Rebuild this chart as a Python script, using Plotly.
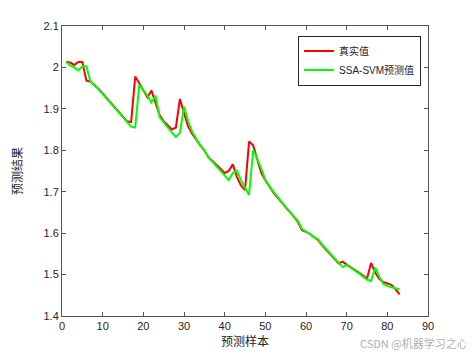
import plotly.graph_objects as go

samples = list(range(1, 84))

true_vals = [
    2.013, 2.012, 2.006, 2.013, 2.013, 1.968, 1.966, 1.958, 1.948, 1.937,
    1.926, 1.915, 1.904, 1.893, 1.882, 1.870, 1.868, 1.978, 1.962, 1.945,
    1.928, 1.944, 1.912, 1.885, 1.870, 1.860, 1.850, 1.855, 1.924, 1.890,
    1.858, 1.840, 1.825, 1.812, 1.800, 1.783, 1.774, 1.765, 1.755, 1.745,
    1.750, 1.766, 1.736, 1.715, 1.704, 1.821, 1.812, 1.775, 1.745, 1.728,
    1.712, 1.698, 1.686, 1.675, 1.663, 1.652, 1.640, 1.627, 1.607, 1.603,
    1.598, 1.590, 1.583, 1.570, 1.560, 1.548, 1.538, 1.527, 1.531, 1.524,
    1.518, 1.512, 1.506, 1.498, 1.490, 1.528, 1.505, 1.490, 1.482, 1.478,
    1.475, 1.465, 1.452,
]

pred_vals = [
    2.013, 2.005, 2.000, 1.993, 2.003, 2.003, 1.965, 1.958, 1.947, 1.936,
    1.924, 1.913, 1.902, 1.891, 1.879, 1.868, 1.857, 1.855, 1.958, 1.945,
    1.932, 1.915, 1.932, 1.880, 1.866, 1.855, 1.843, 1.832, 1.842, 1.905,
    1.870, 1.845, 1.828, 1.812, 1.800, 1.783, 1.772, 1.761, 1.750, 1.739,
    1.728, 1.745, 1.751, 1.728, 1.710, 1.692, 1.800, 1.780, 1.755, 1.728,
    1.713, 1.700, 1.687, 1.675, 1.663, 1.652, 1.640, 1.630, 1.610, 1.605,
    1.598, 1.590, 1.585, 1.572, 1.561, 1.550, 1.540, 1.530, 1.518, 1.523,
    1.517, 1.510, 1.503, 1.495, 1.488, 1.484, 1.517, 1.495, 1.478, 1.472,
    1.470, 1.467, 1.464,
]

x_ticks = [0, 10, 20, 30, 40, 50, 60, 70, 80, 90]
y_ticks = [1.4, 1.5, 1.6, 1.7, 1.8, 1.9, 2.0, 2.1]
y_tick_text = ["1.4", "1.5", "1.6", "1.7", "1.8", "1.9", "2", "2.1"]

fig = go.Figure()
fig.add_trace(go.Scatter(x=samples, y=true_vals, mode="lines", name="真实值",
                         line=dict(color="#ff0000", width=2)))
fig.add_trace(go.Scatter(x=samples, y=pred_vals, mode="lines", name="SSA-SVM预测值",
                         line=dict(color="#00ff00", width=2)))

axis_common = dict(
    showgrid=False, zeroline=False, showline=True, linecolor="#555555", linewidth=1,
    mirror="ticks", ticks="inside", ticklen=4, tickcolor="#555555", automargin=False,
    tickfont=dict(family="Liberation Sans, Arial", size=11, color="#262626"),
)

fig.update_layout(
    width=466, height=347,
    margin=dict(l=54, r=46, t=18, b=39),
    paper_bgcolor="white", plot_bgcolor="white",
    showlegend=True,
    legend=dict(x=0.645, y=0.967, xanchor="left", yanchor="top",
                bgcolor="white", bordercolor="#262626", borderwidth=1,
                font=dict(family="Liberation Sans, Noto Sans CJK SC", size=10, color="#262626"),
                tracegroupgap=0, itemwidth=30),
    xaxis=dict(range=[0, 90], tickvals=x_ticks,
               title=dict(text="预测样本", standoff=5,
                          font=dict(family="Noto Sans CJK SC", size=12, color="#262626")),
               **axis_common),
    yaxis=dict(range=[1.4, 2.1], tickvals=y_ticks, ticktext=y_tick_text,
               title=dict(text="预测结果", standoff=26,
                          font=dict(family="Noto Sans CJK SC", size=12, color="#262626")),
               **axis_common),
)

fig.add_annotation(text="CSDN @机器学习之心", xref="paper", yref="paper",
                   x=1.115, y=-0.093, xanchor="right", yanchor="middle", showarrow=False,
                   font=dict(family="Noto Sans CJK SC", size=11, color="#b0b0b0"))

fig.write_html("out.html")
